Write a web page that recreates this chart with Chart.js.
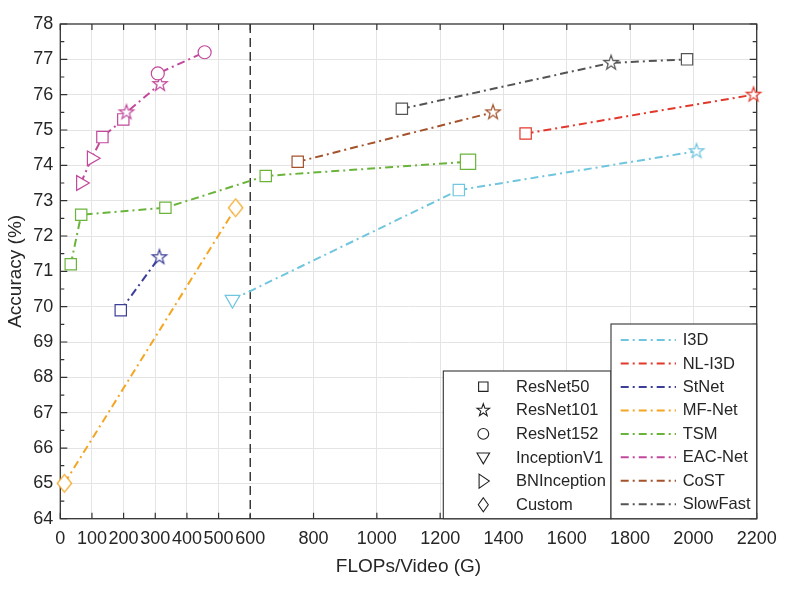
<!DOCTYPE html>
<html><head><meta charset="utf-8">
<script src="https://cdn.jsdelivr.net/npm/chart.js@4.4.1/dist/chart.umd.min.js"></script>
<style>html,body{margin:0;padding:0;background:#fff}#wrap{width:794px;height:589px;position:relative}</style>
</head><body><div id="wrap"><canvas id="c"></canvas></div>
<script>
// ---------------- DATA ----------------
const methodNames = ['I3D','NL-I3D','StNet','MF-Net','TSM','EAC-Net','CoST','SlowFast'];
const backboneNames = ['ResNet50','ResNet101','ResNet152','InceptionV1','BNInception','Custom'];

const i3dFlops = [544, 1259, 2010];
const i3dAcc = [70.2, 73.3, 74.4];
const i3dBackbone = ['InceptionV1','ResNet50','ResNet101'];

const nlI3dFlops = [1470, 2190];
const nlI3dAcc = [74.9, 76.0];
const nlI3dBackbone = ['ResNet50','ResNet101'];

const stNetFlops = [191, 313];
const stNetAcc = [69.9, 71.4];
const stNetBackbone = ['ResNet50','ResNet101'];

const mfNetFlops = [13, 554];
const mfNetAcc = [65.0, 72.8];
const mfNetBackbone = ['Custom','Custom'];

const tsmFlops = [33, 66, 332, 649, 1288];
const tsmAcc = [71.2, 72.6, 72.8, 73.7, 74.1];
const tsmBackbone = ['ResNet50','ResNet50','ResNet50','ResNet50','ResNet50'];

const eacNetFlops = [65, 99, 133, 199, 209, 315, 308, 456];
const eacNetAcc = [73.5, 74.2, 74.8, 75.3, 75.5, 76.3, 76.6, 77.2];
const eacNetBackbone = ['BNInception','BNInception','ResNet50','ResNet50','ResNet101','ResNet101','ResNet152','ResNet152'];

const costFlops = [750, 1367];
const costAcc = [74.1, 75.5];
const costBackbone = ['ResNet50','ResNet101'];

const slowFastFlops = [1079, 1740, 1980];
const slowFastAcc = [75.6, 76.9, 77.0];
const slowFastBackbone = ['ResNet50','ResNet101','ResNet50'];

const xTickValues = [0,100,200,300,400,500,600,800,1000,1200,1400,1600,1800,2000,2200];
const breakValue = 600;
const yMin = 64, yMax = 78;

// ---------------- STYLE ----------------
const methodColors = ['#70c5df','#e2382b','#3c3f98','#f4a623','#6bb43b','#c2489c','#a3522b','#545454'];
const seriesFlops = [i3dFlops, nlI3dFlops, stNetFlops, mfNetFlops, tsmFlops, eacNetFlops, costFlops, slowFastFlops];
const seriesAcc = [i3dAcc, nlI3dAcc, stNetAcc, mfNetAcc, tsmAcc, eacNetAcc, costAcc, slowFastAcc];
const seriesBackbone = [i3dBackbone, nlI3dBackbone, stNetBackbone, mfNetBackbone, tsmBackbone, eacNetBackbone, costBackbone, slowFastBackbone];
const FONT = "'Liberation Sans', Arial, Helvetica, sans-serif";
const TEXT = '#262626';
const DASH = [8,4,2,4];

function makeStar(color, R, lw) {
  const s = Math.ceil(2*R + 4);
  const c = document.createElement('canvas'); c.width = s; c.height = s;
  const g = c.getContext('2d');
  pathStar(g, s/2, s/2, R);
  g.fillStyle = '#fff'; g.fill(); g.strokeStyle = color; g.lineWidth = lw; g.stroke();
  return c;
}
function pathStar(g, cx, cy, R) {
  const r = R * 0.4;
  g.beginPath();
  for (let i = 0; i < 10; i++) {
    const a = -Math.PI/2 + i*Math.PI/5, rr = i % 2 ? r : R;
    g.lineTo(cx + rr*Math.cos(a), cy + rr*Math.sin(a));
  }
  g.closePath();
}
function pathDiamond(g, cx, cy, hw, hh) {
  g.beginPath(); g.moveTo(cx, cy-hh); g.lineTo(cx+hw, cy); g.lineTo(cx, cy+hh); g.lineTo(cx-hw, cy); g.closePath();
}
function makeDiamond(color, hw, hh, lw) {
  const w = Math.ceil(2*hw+4), h = Math.ceil(2*hh+4);
  const c = document.createElement('canvas'); c.width = w; c.height = h;
  const g = c.getContext('2d');
  pathDiamond(g, w/2, h/2, hw, hh);
  g.fillStyle = '#fff'; g.fill(); g.strokeStyle = color; g.lineWidth = lw; g.stroke();
  return c;
}

function markerStyle(b, color, big) {
  const k = big ? 1.35 : 1;
  switch (b) {
    case 'ResNet50': return {style:'rect', radius:8*k, rotation:0};
    case 'ResNet101': return {style:makeStar(color, 7.6, 1.2), radius:8, rotation:0};
    case 'ResNet152': return {style:'circle', radius:6.5, rotation:0};
    case 'InceptionV1': return {style:'triangle', radius:8.5, rotation:180};
    case 'BNInception': return {style:'triangle', radius:8.5, rotation:90};
    default: return {style:makeDiamond(color, 7.2, 8.8, 1.2), radius:8, rotation:0};
  }
}

const datasets = methodNames.map((name, i) => {
  const color = methodColors[i];
  const marks = seriesBackbone[i].map((b, j) => markerStyle(b, color, name === 'TSM' && j === seriesBackbone[i].length - 1));
  return {
    label: name,
    data: seriesFlops[i].map((x, j) => ({x: x, y: seriesAcc[i][j]})),
    showLine: true, fill: false, tension: 0, clip: false,
    borderColor: color, borderWidth: 2, borderDash: DASH,
    pointStyle: marks.map(m => m.style),
    pointRadius: marks.map(m => m.radius),
    pointRotation: marks.map(m => m.rotation),
    pointBorderColor: color, pointBackgroundColor: '#fff', pointBorderWidth: 1.2,
    pointHoverRadius: marks.map(m => m.radius)
  };
});

const framePlugin = {
  id: 'frame',
  beforeDatasetsDraw(chart) {
    const {ctx, chartArea: a, scales: {x, y}} = chart;
    ctx.save();
    const bx = x.getPixelForValue(breakValue);
    ctx.strokeStyle = '#1e1e1e'; ctx.lineWidth = 1.3; ctx.setLineDash([9,5]);
    ctx.beginPath(); ctx.moveTo(bx, a.top); ctx.lineTo(bx, a.bottom); ctx.stroke();
    ctx.setLineDash([]);
    ctx.strokeStyle = '#333'; ctx.lineWidth = 1.3;
    ctx.strokeRect(a.left, a.top, a.right - a.left, a.bottom - a.top);
    ctx.lineWidth = 1.2;
    ctx.beginPath();
    xTickValues.forEach(v => {
      const px = x.getPixelForValue(v);
      ctx.moveTo(px, a.bottom); ctx.lineTo(px, a.bottom - 6);
      ctx.moveTo(px, a.top); ctx.lineTo(px, a.top + 6);
    });
    for (let v = yMin; v <= yMax + 1e-9; v += 0.5) {
      const py = y.getPixelForValue(v);
      const len = Number.isInteger(v) ? 7 : 4;
      ctx.moveTo(a.left, py); ctx.lineTo(a.left + len, py);
      ctx.moveTo(a.right, py); ctx.lineTo(a.right - len, py);
    }
    ctx.stroke();
    ctx.restore();
  },
  afterDraw(chart) {
    const {ctx, chartArea: a} = chart;
    ctx.save();
    // backbone legend
    const b1 = {l: 443.3, t: 371, r: 611};
    ctx.fillStyle = '#fff'; ctx.fillRect(b1.l, b1.t, b1.r - b1.l, a.bottom - b1.t);
    ctx.strokeStyle = '#333'; ctx.lineWidth = 1.1;
    ctx.strokeRect(b1.l, b1.t, b1.r - b1.l, a.bottom - b1.t);
    ctx.font = '16.5px ' + FONT; ctx.textBaseline = 'middle'; ctx.textAlign = 'left';
    backboneNames.forEach((b, i) => {
      const cy = 386.7 + i * 23.6, cx = 483.3;
      ctx.strokeStyle = '#222'; ctx.lineWidth = 1.1; ctx.fillStyle = '#fff';
      ctx.beginPath();
      if (b === 'ResNet50') { ctx.rect(cx - 4.7, cy - 4.7, 9.4, 9.4); }
      else if (b === 'ResNet101') { pathStar(ctx, cx, cy, 6.6); }
      else if (b === 'ResNet152') { ctx.arc(cx, cy, 5.4, 0, Math.PI*2); }
      else if (b === 'InceptionV1') { ctx.moveTo(cx - 6.3, cy - 4.5); ctx.lineTo(cx + 6.3, cy - 4.5); ctx.lineTo(cx, cy + 6.3); ctx.closePath(); }
      else if (b === 'BNInception') { ctx.moveTo(cx - 4.2, cy - 7); ctx.lineTo(cx + 6, cy); ctx.lineTo(cx - 4.2, cy + 7); ctx.closePath(); }
      else { pathDiamond(ctx, cx, cy, 5, 7); }
      ctx.stroke();
      ctx.fillStyle = TEXT; ctx.fillText(b, 516, cy + 0.5);
    });
    // method legend
    const b2 = {l: 611, t: 324, r: a.right};
    ctx.fillStyle = '#fff'; ctx.fillRect(b2.l, b2.t, b2.r - b2.l, a.bottom - b2.t);
    ctx.strokeStyle = '#333'; ctx.lineWidth = 1.1;
    ctx.strokeRect(b2.l, b2.t, b2.r - b2.l, a.bottom - b2.t);
    methodNames.forEach((m, i) => {
      const cy = 340 + i * 23.47;
      ctx.strokeStyle = methodColors[i]; ctx.lineWidth = 2; ctx.setLineDash(DASH);
      ctx.beginPath(); ctx.moveTo(620.7, cy); ctx.lineTo(676, cy); ctx.stroke();
      ctx.setLineDash([]);
      ctx.fillStyle = TEXT; ctx.fillText(m, 682.7, cy + 0.5);
    });
    ctx.restore();
  }
};

new Chart(document.getElementById('c'), {
  type: 'scatter',
  data: { datasets },
  plugins: [framePlugin],
  options: {
    responsive: true, maintainAspectRatio: false, animation: false,
    layout: { padding: { top: 24, right: 37.3, left: 0, bottom: 0 } },
    plugins: { legend: { display: false }, tooltip: { enabled: false } },
    scales: {
      x: {
        type: 'linear', min: 0, max: 2200,
        afterBuildTicks: s => { s.ticks = xTickValues.map(v => ({value: v})); },
        afterFit: s => { s.height = 70.3; },
        ticks: { autoSkip: false, maxRotation: 0, minRotation: 0, padding: 10, color: TEXT,
                 font: { family: FONT, size: 18 }, callback: v => String(v) },
        grid: { drawTicks: false, lineWidth: 1,
                color: c => (c.tick && (c.tick.value === 0 || c.tick.value === breakValue || c.tick.value === 2200)) ? 'rgba(0,0,0,0)' : '#e4e4e4' },
        border: { display: false },
        title: { display: true, text: 'FLOPs/Video (G)', color: TEXT, font: { family: FONT, size: 19 }, padding: { top: 0, bottom: 10.6 } }
      },
      y: {
        type: 'linear', min: yMin, max: yMax,
        afterFit: s => { s.width = 60.3; },
        ticks: { stepSize: 1, padding: 7, color: TEXT, font: { family: FONT, size: 18 }, callback: v => String(v) },
        grid: { drawTicks: false, lineWidth: 1,
                color: c => (c.tick && (c.tick.value === yMin || c.tick.value === yMax)) ? 'rgba(0,0,0,0)' : '#e4e4e4' },
        border: { display: false },
        title: { display: true, text: 'Accuracy (%)', color: TEXT, font: { family: FONT, size: 19 }, padding: { top: 4, bottom: 0 } }
      }
    }
  }
});
</script>
</body></html>
